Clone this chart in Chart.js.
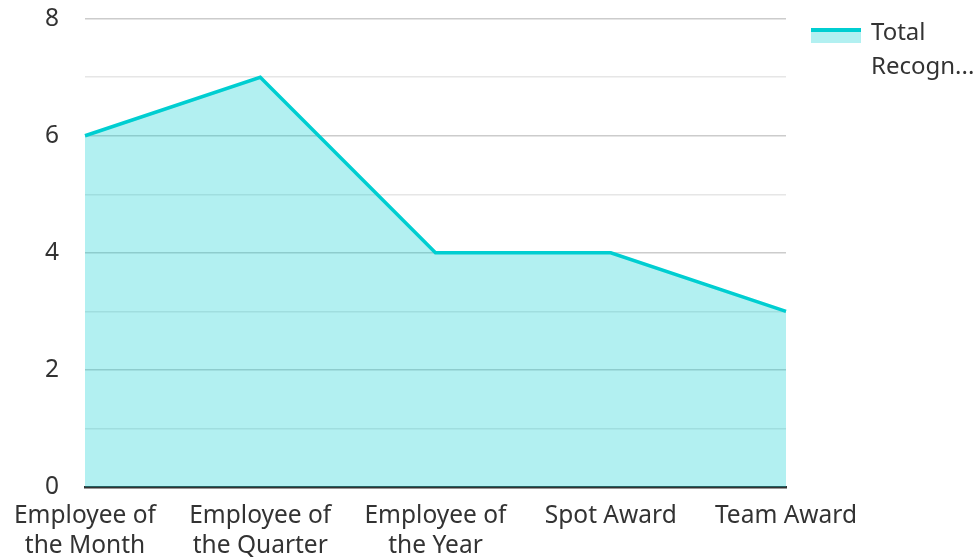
<!DOCTYPE html>
<html>
<head>
<meta charset="utf-8">
<script src="https://cdn.jsdelivr.net/npm/chart.js@4"></script>
<style>
  html, body { margin: 0; padding: 0; background: #fff; }
  #wrap { position: relative; width: 978px; height: 560px; }
  #legend { position: absolute; left: 811px; top: 14px; display: flex; font: 24px "Noto Sans", "Open Sans", sans-serif; color: #333; line-height: 34px; }
  #legend .sw { width: 50px; height: 15px; margin-top: 14px; margin-right: 10px; border-top: 4px solid #00ced1; background: rgba(0,206,209,0.3); box-sizing: border-box; }
</style>
</head>
<body>
<div id="wrap">
  <canvas id="chart" width="978" height="560"></canvas>
  <div id="legend"><div class="sw"></div><div>Total<br>Recogn...</div></div>
</div>
<script>
const categories = [['Employee of', 'the Month'], ['Employee of', 'the Quarter'], ['Employee of', 'the Year'], 'Spot Award', 'Team Award'];
const recognitions = [6, 7, 4, 4, 3];
const seriesName = 'Total Recognitions';

const textColor = '#333333';
const font = { family: '"Noto Sans", "Open Sans", sans-serif', size: 24.5 };

new Chart(document.getElementById('chart').getContext('2d'), {
  type: 'line',
  data: {
    labels: categories,
    datasets: [{
      label: seriesName,
      data: recognitions,
      borderColor: '#00ced1',
      backgroundColor: 'rgba(0,206,209,0.3)',
      borderWidth: 3.5,
      pointRadius: 0,
      fill: 'origin',
      tension: 0,
    }]
  },
  options: {
    responsive: false,
    animation: false,
    layout: { padding: { top: 0, right: 192, left: 0, bottom: 0 } },
    plugins: {
      legend: { display: false },
      tooltip: { enabled: false }
    },
    scales: {
      x: {
        offset: false,
        afterFit: s => { s.height = 73; },
        grid: { display: false, drawTicks: false },
        border: { color: '#333333', width: 2.5 },
        ticks: { color: textColor, font: { ...font, lineHeight: 1.22 }, padding: 14, maxRotation: 0, autoSkip: false }
      },
      y: {
        min: 0,
        max: 8,
        afterFit: s => { s.width = 84; },
        grid: {
          drawTicks: true,
          tickLength: 22,
          tickColor: 'transparent',
          color: c => (c.tick && c.tick.value % 2 === 0) ? '#cccccc' : '#e6e6e6',
          lineWidth: 1.5
        },
        border: { display: false },
        ticks: {
          stepSize: 1,
          color: textColor,
          font: font,
          padding: 4,
          callback: v => v % 2 === 0 ? v : ''
        }
      }
    }
  }
});
</script>
</body>
</html>
